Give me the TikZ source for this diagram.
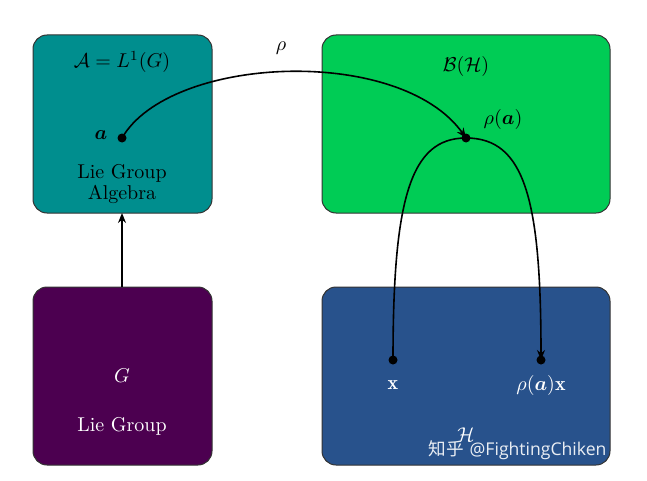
\documentclass[tikz,border=0pt]{standalone}
\usepackage{amsmath,amssymb,bm}
\usepackage{fontspec}
\newfontfamily\cjk{Noto Sans CJK SC}
\newfontfamily\wm{Open Sans}
\usetikzlibrary{arrows.meta}
\definecolor{cA}{RGB}{0,142,142}
\definecolor{cB}{RGB}{0,204,85}
\definecolor{cG}{RGB}{76,0,80}
\definecolor{cH}{RGB}{40,82,140}
\begin{document}
\begin{tikzpicture}[x=0.5pt,y=-0.5pt,
  box/.style={draw=black!80,rounded corners=7pt,line width=0.5pt},
  dot/.style={circle,fill=black,inner sep=0pt,minimum size=4.5pt},
  arr/.style={line width=0.8pt,-{Stealth[length=5pt,width=4pt]}}]
\useasboundingbox (0,0) rectangle (647,481);
\draw[box,fill=cA] (33,35) rectangle (212,213);
\draw[box,fill=cB] (322,35) rectangle (610,213);
\draw[box,fill=cG] (33,287) rectangle (212,465);
\draw[box,fill=cH] (322,287) rectangle (610,465);
\node (A) at (122,62) {$\mathcal{A}=L^1(G)$};
\node[dot] (a) at (122,138) {};
\node (al) at (101,135) {$\bm{a}$};
\node[align=center,font=\linespread{0.85}\selectfont] (lga) at (122,184) {Lie Group\\Algebra};
\node (B) at (466,67) {$\mathcal{B}(\mathcal{H})$};
\node[dot] (ra) at (466,138) {};
\node (ral) at (503,120) {$\rho(\bm{a})$};
\node (rho) at (281,48) {$\rho$};
\node[text=white] (Gl) at (122,376) {$G$};
\node[text=white] (lg) at (122,426) {Lie Group};
\node[text=white] (Hl) at (466,435) {$\mathcal{H}$};
\node[dot] (x) at (393,360) {};
\node[dot] (rx) at (541,360) {};
\node[text=white] (xl) at (393,385) {$\mathbf{x}$};
\node[text=white] (rxl) at (541,385) {$\rho(\bm{a})\mathbf{x}$};
\coordinate (gtop) at (122,287);
\coordinate (abot) at (122,213);
\draw[arr] (gtop) -- (abot);
\draw[arr] (a.center) .. controls (170,55) and (400,45) .. (ra.center);
\draw[arr] (x.center) .. controls (393,200) and (410,138) .. (ra.center) .. controls (525,138) and (541,200) .. (rx.center);
\node[text=white,opacity=0.9,anchor=west,inner sep=0pt,font=\fontsize{8.8}{10}\selectfont] (wm) at (428,450) {{\cjk 知乎} {\wm @FightingChiken}};
\end{tikzpicture}
\end{document}
